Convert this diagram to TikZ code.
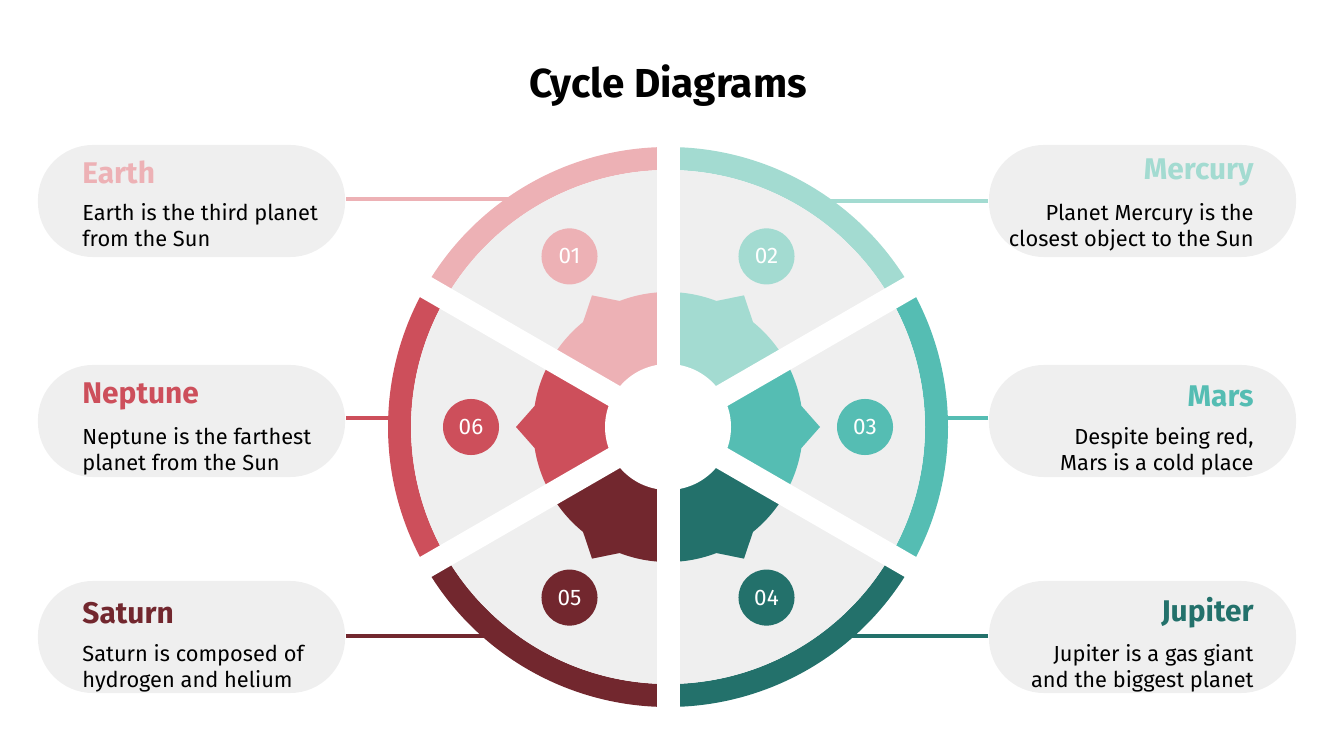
\documentclass[tikz,border=0pt]{standalone}
\usepackage{fontspec}
\setmainfont{Fira Sans}
\usetikzlibrary{positioning}
\definecolor{cEarth}{HTML}{EDB1B5}
\definecolor{cMercury}{HTML}{A3DBD1}
\definecolor{cMars}{HTML}{55BDB3}
\definecolor{cJupiter}{HTML}{23716B}
\definecolor{cSaturn}{HTML}{72272E}
\definecolor{cNeptune}{HTML}{CD4F5B}
\definecolor{cGray}{HTML}{EFEFEF}
\begin{document}
\begin{tikzpicture}[x=0.01cm,y=0.01cm,
    info_box/.style={fill=cGray,rounded corners=0.55cm,minimum width=3.07cm,minimum height=1.12cm,inner sep=0pt},
    head_text/.style={font=\fontsize{8.5}{9}\selectfont\bfseries},
    body_text/.style={font=\fontsize{6.2}{7.4}\selectfont,align=#1},
    num_node/.style={circle,minimum size=0.56cm,inner sep=0pt,text=white,font=\fontsize{6.4}{7}\selectfont},
    link_line/.style={line width=1.2pt}]
    \useasboundingbox (0,0) rectangle (1336,-752);
    \node[font=\fontsize{11.5}{12}\selectfont\bfseries] (title) at (668,-86) {Cycle Diagrams};
    % boxes
    \node[info_box] (b1) at (191.5,-201) {};
    \node[info_box] (b2) at (1142.5,-201) {};
    \node[info_box] (b6) at (191.5,-421) {};
    \node[info_box] (b3) at (1142.5,-421) {};
    \node[info_box] (b5) at (191.5,-637) {};
    \node[info_box] (b4) at (1142.5,-637) {};
    % connectors
    \coordinate (e1) at (510,-199);
    \coordinate (e2) at (826,-201);
    \coordinate (e6) at (420,-418);
    \coordinate (e3) at (916,-418);
    \coordinate (e5) at (500,-636);
    \coordinate (e4) at (836,-636);
    \draw[link_line,cEarth] (b1.east |- e1) -- (e1);
    \draw[link_line,cMercury] (b2.west |- e2) -- (e2);
    \draw[link_line,cNeptune] (b6.east |- e6) -- (e6);
    \draw[link_line,cMars] (b3.west |- e3) -- (e3);
    \draw[link_line,cSaturn] (b5.east |- e5) -- (e5);
    \draw[link_line,cJupiter] (b4.west |- e4) -- (e4);
    % wheel
    \begin{scope}[shift={(668,-427)}]
      \foreach \m/\c in {120/cEarth,60/cMercury,0/cMars,-60/cJupiter,-120/cSaturn,180/cNeptune}{
        \fill[\c] (\m-30:280) arc[start angle=\m-30,end angle=\m+30,radius=280]
          -- (\m+30:257) arc[start angle=\m+30,end angle=\m-30,radius=257] -- cycle;
        \fill[cGray] (0,0) -- (\m-30:257) arc[start angle=\m-30,end angle=\m+30,radius=257] -- cycle;
        \fill[\c] (\m-30:135) arc[start angle=\m-30,end angle=\m-9,radius=135]
          -- (\m:152) -- (\m+9:135) arc[start angle=\m+9,end angle=\m+30,radius=135] -- (0,0) -- cycle;
      }
      \foreach \a in {30,90,...,330}
        \draw[white,line width=0.23cm] (0,0) -- (\a:282);
      \fill[white] (0,0) circle[radius=63];
      \foreach \m/\c/\n in {120/cEarth/01,60/cMercury/02,0/cMars/03,-60/cJupiter/04,-120/cSaturn/05,180/cNeptune/06}
        \node[num_node,fill=\c] (n\n) at (\m:197) {\n};
    \end{scope}
    % texts
    \node[head_text,text=cEarth,anchor=west] (h1) at (70,-172) {Earth};
    \node[body_text=left,anchor=north west] (t1) at (70,-191) {Earth is the third planet\\from the Sun};
    \node[head_text,text=cMercury,anchor=east] (h2) at (1266,-172) {Mercury};
    \node[body_text=right,anchor=north east] (t2) at (1266,-191) {Planet Mercury is the\\closest object to the Sun};
    \node[head_text,text=cNeptune,anchor=west] (h6) at (70,-396) {Neptune};
    \node[body_text=left,anchor=north west] (t6) at (70,-415) {Neptune is the farthest\\planet from the Sun};
    \node[head_text,text=cMars,anchor=east] (h3) at (1266,-396) {Mars};
    \node[body_text=right,anchor=north east] (t3) at (1266,-415) {Despite being red,\\Mars is a cold place};
    \node[head_text,text=cSaturn,anchor=west] (h5) at (70,-613) {Saturn};
    \node[body_text=left,anchor=north west] (t5) at (70,-632) {Saturn is composed of\\hydrogen and helium};
    \node[head_text,text=cJupiter,anchor=east] (h4) at (1266,-613) {Jupiter};
    \node[body_text=right,anchor=north east] (t4) at (1266,-632) {Jupiter is a gas giant\\and the biggest planet};
\end{tikzpicture}
\end{document}
